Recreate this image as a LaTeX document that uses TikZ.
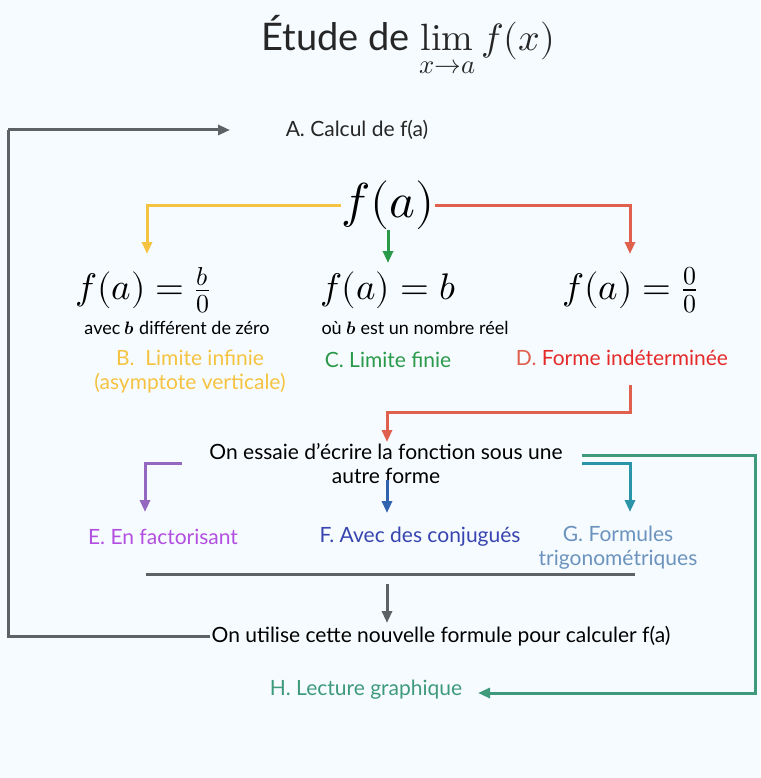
\documentclass[tikz,border=0pt]{standalone}
\usepackage{fontspec}
\setmainfont{Lato}
\usepackage{unicode-math}
\setmathfont{Latin Modern Math}
\usetikzlibrary{arrows.meta}
\definecolor{bg}{HTML}{F5FBFE}
\definecolor{cgray}{HTML}{5E6266}
\definecolor{cyel}{HTML}{F5C342}
\definecolor{cgreen}{HTML}{2A9A4A}
\definecolor{cred}{HTML}{E0604E}
\definecolor{cdred}{HTML}{E52A2A}
\definecolor{cpur}{HTML}{9467C0}
\definecolor{cpurt}{HTML}{B34FE0}
\definecolor{cblue}{HTML}{2F63B0}
\definecolor{cbluet}{HTML}{3845B0}
\definecolor{cteal}{HTML}{2A95A8}
\definecolor{cgt}{HTML}{6C93BE}
\definecolor{ch}{HTML}{3E9A7B}
\begin{document}
\begin{tikzpicture}[x=1pt,y=-1pt,
  conn/.style={line width=3pt,-{Triangle[length=12pt,width=10pt]}},
  line/.style={line width=3pt},
  txt/.style={inner sep=1pt,font=\fontsize{21}{24}\selectfont,align=center},
  mth/.style={inner sep=1pt,font=\fontsize{37}{40}\selectfont}]
\fill[bg] (0,0) rectangle (760,778);
\useasboundingbox (0,0) rectangle (760,778);
\node[inner sep=0pt,text=black!85] (title) at (408,47) {\fontsize{38}{44}\selectfont Étude de $\displaystyle\mathop{\symup{lim}}\limits_{x\to a} f(x)$};
\node[txt,text=black!85] (A) at (357,130) {A. Calcul de f(a)};
\node[inner sep=1pt,font=\fontsize{49}{52}\selectfont] (fa) at (388,205) {$f(a)$};
\node[mth] (n1) at (143,290) {$f(a)=\frac{b}{0}$};
\node[mth] (n2) at (388,290) {$f(a)=b$};
\node[mth] (n3) at (630,290) {$f(a)=\frac{0}{0}$};
\node[txt,font=\fontsize{18}{21}\selectfont] (s1) at (177,328) {avec $\symbfit{b}$ différent de zéro};
\node[txt,font=\fontsize{18}{21}\selectfont] (s2) at (415,328) {où $\symbfit{b}$ est un nombre réel};
\node[txt,text=cyel] (B) at (190,372) {B.\ \ Limite infinie\\(asymptote verticale)};
\node[txt,text=cgreen] (C) at (388,360) {C. Limite finie};
\node[txt] (D) at (622,358) {\textcolor{cred}{D.} \textcolor{cdred}{Forme indéterminée}};
\node[txt] (O) at (386,464) {On essaie d'écrire la fonction sous une\\autre forme};
\node[txt,text=cpurt] (E) at (163,537) {E. En factorisant};
\node[txt,text=cbluet] (F) at (420,537) {F. Avec des conjugués};
\node[txt,text=cgt] (G) at (618,548) {G. Formules\\trigonométriques};
\node[txt] (U) at (441,636) {On utilise cette nouvelle formule pour calculer f(a)};
\node[txt,text=ch] (H) at (366,690) {H. Lecture graphique};
\coordinate (aL) at (230,130);
\coordinate (gl) at (146,574);
\coordinate (gr) at (635,574);
\coordinate (hend) at (478,693);
% gray loop
\draw[line,cgray] (U.west) -| (8,130);
\draw[conn,cgray] (8,130) -- (aL);
% from f(a)
\draw[conn,cyel] (fa.west) -| (147,254);
\draw[conn,cred] (fa.east) -| (630,254);
\draw[conn,cgreen] (388,230) -- (388,263);
% D to O
\draw[conn,cred] (630,385) |- (387,412) -- (387,442);
% O to E,F,G
\draw[conn,cpur] (182,463) -| (145,512);
\draw[conn,cblue] (387,480) -- (387,513);
\draw[conn,cteal] (582,463) -| (630,512);
\draw[conn,ch] (582,455) -| (755,693) -- (hend);
% bar
\draw[line,cgray] (gl) -- (gr);
\draw[conn,cgray] (387,584) -- (387,623);
\end{tikzpicture}
\end{document}
